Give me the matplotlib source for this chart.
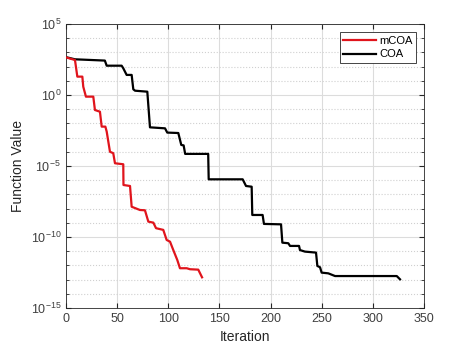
import numpy as np
import matplotlib.pyplot as plt

# corner points of each convergence curve: iteration and log10 of best function value
coa_iter = [0.7, 8.8, 38, 39.8, 54.4, 56, 59.3, 64.2, 65.8, 67.5, 79.5, 82.1, 96.8, 99,
            109.8, 112.7, 115, 116.5, 139, 139.5, 172.7, 176, 181.5, 182.1, 192.2, 193.5,
            210.2, 211.5, 217.3, 219, 227.8, 228.7, 233.6, 244.4, 245.7, 248.3, 249.9,
            256.4, 263, 323.3, 326.5]
coa_log = [2.65, 2.51, 2.42, 2.06, 2.06, 1.88, 1.41, 1.41, 0.40, 0.30, 0.23, -2.28, -2.35,
           -2.65, -2.68, -3.52, -3.55, -4.15, -4.15, -5.94, -5.94, -6.41, -6.46, -8.45,
           -8.45, -9.08, -9.11, -10.40, -10.44, -10.63, -10.63, -10.92, -11.03, -11.1,
           -12.04, -12.13, -12.51, -12.56, -12.75, -12.75, -12.98]

mcoa_iter = [0.7, 8.8, 11.1, 16, 16.9, 19.5, 26.7, 28.3, 33.2, 34.9, 38.5, 39.8, 43, 46.2,
             47.9, 56, 56.2, 62.6, 64.2, 72.3, 77.2, 80.5, 85.4, 88, 95.1, 98.4, 101.7,
             104.9, 108.8, 111.4, 118, 121.2, 129.3, 133]
mcoa_log = [2.63, 2.46, 1.29, 1.29, 0.58, -0.12, -0.12, -1.06, -1.18, -2.23, -2.23, -2.58,
            -4.0, -4.1, -4.81, -4.88, -6.34, -6.41, -7.87, -8.1, -8.12, -8.92, -8.99,
            -9.38, -9.5, -10.21, -10.33, -10.92, -11.62, -12.2, -12.2, -12.27, -12.3,
            -12.84]

plt.rcParams['font.family'] = ['Liberation Sans', 'DejaVu Sans']

fig = plt.figure(figsize=(4.55, 3.52), dpi=100)
ax = fig.add_axes([0.145, 0.125, 0.787, 0.807])

ax.plot(mcoa_iter, 10.0**np.array(mcoa_log), color='#e0141c', lw=1.6,
        label='mCOA', zorder=3)
ax.plot(coa_iter, 10.0**np.array(coa_log), color='black', lw=1.6,
        label='COA', zorder=2)

ax.set_yscale('log')
ax.set_xlim(0, 350)
ax.set_ylim(1e-15, 1e5)
ax.set_xticks(np.arange(0, 351, 50))
ax.set_yticks([10.0**k for k in range(-15, 6, 5)])
ax.set_yticks([10.0**k for k in range(-15, 6) if k % 5], minor=True)
ax.yaxis.set_minor_formatter(plt.NullFormatter())

ax.grid(True, which='major', color='#dcdcdc', lw=0.8)
ax.grid(True, which='minor', axis='y', color='#d0d0d0', lw=0.8, ls=':')
ax.set_axisbelow(True)

ax.tick_params(which='both', direction='in', colors='#262626', labelsize=9,
               labelcolor='#404040')
ax.tick_params(which='minor', length=2)
ax.tick_params(top=True, right=True, which='both')
for s in ax.spines.values():
    s.set_color('#262626')
    s.set_linewidth(0.6)

ax.set_xlabel('Iteration', fontsize=10, color='#262626')
ax.set_ylabel('Function Value', fontsize=10, color='#262626')

leg = ax.legend(loc='upper right', fontsize=8, fancybox=False, framealpha=1,
                edgecolor='#262626', handlelength=2.9, borderpad=0.35,
                labelspacing=0.35, handletextpad=0.3, borderaxespad=0.7)
leg.get_frame().set_linewidth(0.6)

fig.savefig('out.png', dpi=100)
